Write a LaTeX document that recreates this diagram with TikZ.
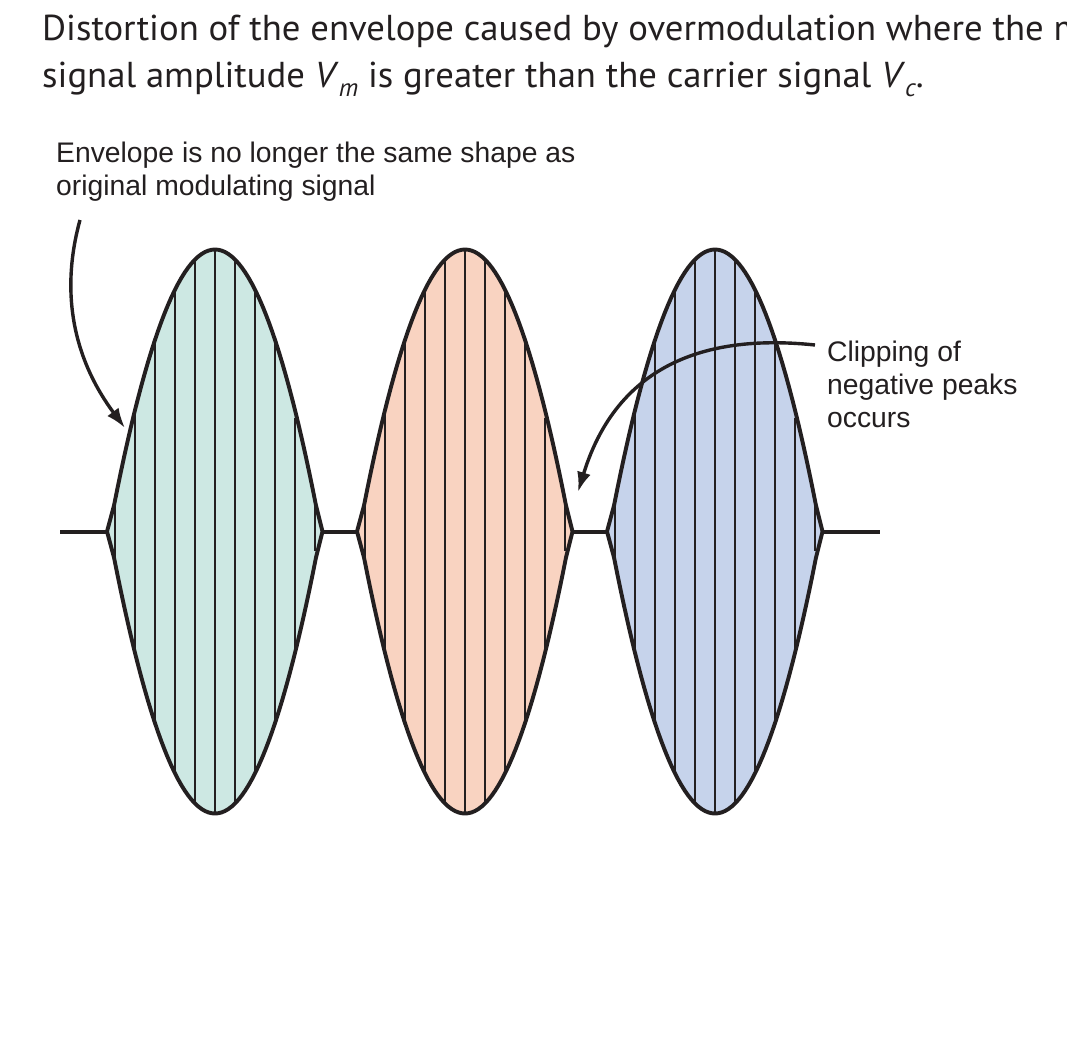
\documentclass[tikz,border=0pt]{standalone}
\usepackage{fontspec}
\setmainfont{Liberation Sans}
\newfontfamily\titlefont[FakeStretch=1.02]{PT Sans}
\usetikzlibrary{arrows.meta}
\definecolor{ink}{HTML}{231F20}
\definecolor{lobeA}{HTML}{CDE8E3}
\definecolor{lobeB}{HTML}{F9D3C1}
\definecolor{lobeC}{HTML}{C6D3EB}
\newcommand{\mysubs}[1]{\raisebox{-0.45ex}{\fontsize{25}{25}\selectfont\itshape #1}}
\def\yb{531.5}
\def\HH{282}
\def\WW{106}
\newcommand{\lobepath}[1]{%
  plot[domain=-101:101, samples=61] ({#1+\x},{\yb-\HH*(1-(\x/\WW)^2)})
  -- ({#1+107.5},\yb)
  -- plot[domain=101:-101, samples=61] ({#1+\x},{\yb+\HH*(1-(\x/\WW)^2)})
  -- ({#1-108},\yb) -- cycle}
\newcommand{\drawlobe}[2]{%
  \fill[#2] \lobepath{#1};
  \foreach \k/\gt/\gb in {-5/0/0,-4/0/0,-3/0/0,-2/0/0,-1/0/0,0/0/0,1/0/0,2/0/1,3/0/3,4/8/3,5/0/12}{%
    \pgfmathsetmacro\dx{20*\k}%
    \pgfmathsetmacro\hh{\HH*(1-(\dx/\WW)^2)}%
    \draw[carrier] ({#1+\dx},{\yb-\hh+\gt}) -- ({#1+\dx},{\yb+\hh-\gb});
  }
  \draw[outline] \lobepath{#1};
}
\begin{document}
\begin{tikzpicture}[x=1pt,y=-1pt,
  outline/.style={draw=ink, line width=3.9pt, line join=round},
  carrier/.style={draw=ink, line width=1.9pt},
  axisline/.style={draw=ink, line width=4pt},
  pointer/.style={draw=ink, line width=3.4pt, -{Latex[length=20pt,width=14pt]}},
  title/.style={font=\titlefont\fontsize{36}{47}\selectfont, inner sep=0pt, text=ink},
  label/.style={font=\fontsize{28.3}{32.8}\selectfont, inner sep=0pt, align=left, text=ink}]
\useasboundingbox (0,0) rectangle (1067,1051);
\fill[white] (0,0) rectangle (1067,1051);
\clip (0,0) rectangle (1067,1051);

\node[title, anchor=base west] (title1) at (42,41) {Distortion of the envelope caused by overmodulation where the m};
\node[title, anchor=base west] (title2) at (42,88) {signal amplitude \textit{V}\mysubs{m} is greater than the carrier signal \textit{V}\mysubs{c}.};

% baseline segments
\coordinate (bl0) at (60,\yb);
\coordinate (bl1) at (880,\yb);
\draw[axisline] (bl0) -- (bl1);

\drawlobe{215}{lobeA}
\drawlobe{465}{lobeB}
\drawlobe{715}{lobeC}

\node[label, anchor=north west] (lab1) at (56,142) {Envelope is no longer the same shape as\\original modulating signal};
\node[label, anchor=north west] (lab2) at (827,341) {Clipping of\\negative peaks\\occurs};

\coordinate (a1s) at (80,220);
\coordinate (a1e) at (125,428);
\draw[pointer] (a1s) .. controls (58,300) and (78,365) .. (a1e);

\coordinate (a2s) at (815,345);
\coordinate (a2e) at (578,492);
\draw[pointer] (a2s) .. controls (720,335) and (620,355) .. (a2e);
\end{tikzpicture}
\end{document}
